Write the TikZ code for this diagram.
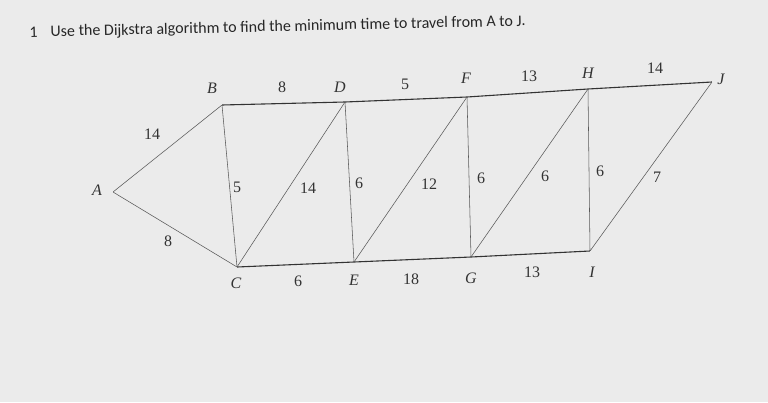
\documentclass[tikz,border=0pt]{standalone}
\usepackage{fontspec}
\setmainfont{Liberation Serif}
\newfontfamily\titlefont{Carlito}
\usetikzlibrary{positioning}

\begin{document}
\begin{tikzpicture}[x=1pt, y=-1pt,
            vertex/.style={inner sep=0pt, minimum size=0pt},
            vname/.style={inner sep=1pt, font=\fontsize{16}{16}\selectfont\itshape, text=black!80},
            weight/.style={inner sep=1pt, font=\fontsize{16}{16}\selectfont, text=black!80},
            rail/.style={draw=black!80, line width=1.1pt},
            link/.style={draw=black!65, line width=0.55pt}]
        \fill[black!8] (0,0) rectangle (768,402);
        \useasboundingbox (0,0) rectangle (768,402);

        \node[anchor=west, rotate=1.3, font=\titlefont\fontsize{16}{16}\selectfont, text=black!85] (title) at (26,33)
            {1\hspace{13pt}Use the Dijkstra algorithm to find the minimum time to travel from A to J.};

        \node[vertex] (A) at (113,192) {};
        \node[vertex] (B) at (222,105) {};
        \node[vertex] (C) at (237,267) {};
        \node[vertex] (D) at (345,102) {};
        \node[vertex] (E) at (354,262) {};
        \node[vertex] (F) at (467,97) {};
        \node[vertex] (G) at (471,257) {};
        \node[vertex] (H) at (588,89) {};
        \node[vertex] (I) at (590,251) {};
        \node[vertex] (J) at (712,82) {};

        \node[vname] (nA) at (97,190) {A};
        \node[vname] (nB) at (212,88) {B};
        \node[vname] (nC) at (236,283) {C};
        \node[vname] (nD) at (340,87) {D};
        \node[vname] (nE) at (354,280) {E};
        \node[vname] (nF) at (466,78) {F};
        \node[vname] (nG) at (471,278) {G};
        \node[vname] (nH) at (588,73) {H};
        \node[vname] (nI) at (592,272) {I};
        \node[vname] (nJ) at (721,79) {J};

        \draw[rail] (B) -- (D);
        \draw[rail] (D) -- (F);
        \draw[rail] (F) -- (H);
        \draw[rail] (H) -- (J);
        \draw[rail] (C) -- (E);
        \draw[rail] (E) -- (G);
        \draw[rail] (G) -- (I);
        \draw[link] (A) -- (B);
        \draw[link] (A) -- (C);
        \draw[link] (B) -- (C);
        \draw[link] (C) -- (D);
        \draw[link] (D) -- (E);
        \draw[link] (E) -- (F);
        \draw[link] (F) -- (G);
        \draw[link] (G) -- (H);
        \draw[link] (H) -- (I);
        \draw[link] (I) -- (J);

        \node[weight] (wAB) at (152,134) {14};
        \node[weight] (wAC) at (168,241) {8};
        \node[weight] (wBD) at (282,87) {8};
        \node[weight] (wDF) at (405,84) {5};
        \node[weight] (wFH) at (529,76) {13};
        \node[weight] (wHJ) at (655,68) {14};
        \node[weight] (wBC) at (237,187) {5};
        \node[weight] (wCD) at (308,188) {14};
        \node[weight] (wDE) at (359,183) {6};
        \node[weight] (wEF) at (429,184) {12};
        \node[weight] (wFG) at (481,178) {6};
        \node[weight] (wGH) at (545,176) {6};
        \node[weight] (wHI) at (600,171) {6};
        \node[weight] (wIJ) at (657,177) {7};
        \node[weight] (wCE) at (298,281) {6};
        \node[weight] (wEG) at (411,279) {18};
        \node[weight] (wGI) at (532,272) {13};
    \end{tikzpicture}
\end{document}
